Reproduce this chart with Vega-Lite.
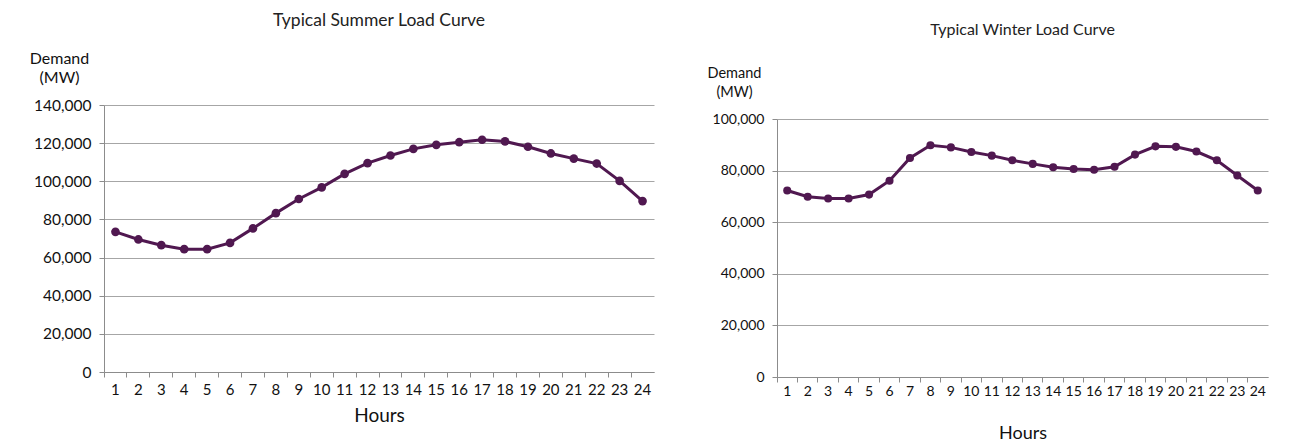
{
  "$schema": "https://vega.github.io/schema/vega-lite/v6.json",
  "background": "white",
  "padding": {"left": 29, "top": 11, "right": 5, "bottom": 0},
  "spacing": 53,
  "datasets": {
    "summer": [
      {"hour": 1, "mw": 73500}, {"hour": 2, "mw": 69500}, {"hour": 3, "mw": 66500},
      {"hour": 4, "mw": 64400}, {"hour": 5, "mw": 64400}, {"hour": 6, "mw": 67700},
      {"hour": 7, "mw": 75300}, {"hour": 8, "mw": 83300}, {"hour": 9, "mw": 90700},
      {"hour": 10, "mw": 96800}, {"hour": 11, "mw": 103900}, {"hour": 12, "mw": 109500},
      {"hour": 13, "mw": 113500}, {"hour": 14, "mw": 117000}, {"hour": 15, "mw": 119100},
      {"hour": 16, "mw": 120500}, {"hour": 17, "mw": 121800}, {"hour": 18, "mw": 120900},
      {"hour": 19, "mw": 118100}, {"hour": 20, "mw": 114600}, {"hour": 21, "mw": 111900},
      {"hour": 22, "mw": 109300}, {"hour": 23, "mw": 100200}, {"hour": 24, "mw": 89600}
    ],
    "winter": [
      {"hour": 1, "mw": 72300}, {"hour": 2, "mw": 69900}, {"hour": 3, "mw": 69200},
      {"hour": 4, "mw": 69200}, {"hour": 5, "mw": 70700}, {"hour": 6, "mw": 76100},
      {"hour": 7, "mw": 84900}, {"hour": 8, "mw": 89800}, {"hour": 9, "mw": 89000},
      {"hour": 10, "mw": 87200}, {"hour": 11, "mw": 85800}, {"hour": 12, "mw": 84000},
      {"hour": 13, "mw": 82600}, {"hour": 14, "mw": 81300}, {"hour": 15, "mw": 80600},
      {"hour": 16, "mw": 80300}, {"hour": 17, "mw": 81500}, {"hour": 18, "mw": 86200},
      {"hour": 19, "mw": 89400}, {"hour": 20, "mw": 89200}, {"hour": 21, "mw": 87400},
      {"hour": 22, "mw": 84000}, {"hour": 23, "mw": 78100}, {"hour": 24, "mw": 72300}
    ]
  },
  "hconcat": [
    {
      "width": 550,
      "height": 267,
      "data": {"name": "summer"},
      "title": {"text": "Typical Summer Load Curve", "fontSize": 17.5, "offset": 21},
      "mark": {"type": "line", "color": "#501850", "strokeWidth": 3,
               "point": {"filled": true, "size": 75, "color": "#501850"}},
      "encoding": {
        "x": {
          "field": "hour", "type": "ordinal",
          "scale": {"type": "band", "paddingInner": 0, "paddingOuter": 0},
          "axis": {"title": "Hours", "labelAngle": 0, "labelFontSize": 15,
                   "titleFontSize": 19, "titlePadding": 9, "bandPosition": 0,
                   "labelPadding": 5}
        },
        "y": {
          "field": "mw", "type": "quantitative",
          "scale": {"domain": [0, 140000]},
          "axis": {"title": ["Demand", "(MW)"], "values": [0, 20000, 40000, 60000, 80000, 100000, 120000, 140000],
                   "format": ",d", "labelFontSize": 15.5, "titleFontSize": 16,
                   "titleY": -39, "titleX": -45}
        }
      }
    },
    {
      "width": 491,
      "height": 272,
      "data": {"name": "winter"},
      "title": {"text": "Typical Winter Load Curve", "fontSize": 16, "offset": 27},
      "mark": {"type": "line", "color": "#501850", "strokeWidth": 3,
               "point": {"filled": true, "size": 65, "color": "#501850"}},
      "encoding": {
        "x": {
          "field": "hour", "type": "ordinal",
          "scale": {"type": "band", "paddingInner": 0, "paddingOuter": 0},
          "axis": {"title": "Hours", "labelAngle": 0, "labelFontSize": 14,
                   "titleFontSize": 18, "titlePadding": 26, "bandPosition": 0,
                   "labelPadding": 2}
        },
        "y": {
          "field": "mw", "type": "quantitative",
          "scale": {"domain": [0, 100000], "range": [272, 14]},
          "axis": {"title": ["Demand", "(MW)"], "values": [0, 20000, 40000, 60000, 80000, 100000],
                   "format": ",d", "labelFontSize": 14, "titleFontSize": 14.5,
                   "titleY": -25, "titleX": -43}
        }
      }
    }
  ],
  "config": {
    "font": "Lato",
    "view": {"stroke": null},
    "title": {"fontWeight": "normal", "color": "#222222", "anchor": "middle"},
    "axis": {
      "labelColor": "#111111", "titleColor": "#111111", "titleFontWeight": "normal",
      "domainColor": "#8c8c8c", "tickColor": "#8c8c8c", "tickSize": 5,
      "gridColor": "#a6a6a6", "labelPadding": 8
    },
    "axisX": {"grid": false},
    "axisY": {"titleAngle": 0, "titleAlign": "center", "titleBaseline": "bottom", "titleLineHeight": 19}
  }
}
